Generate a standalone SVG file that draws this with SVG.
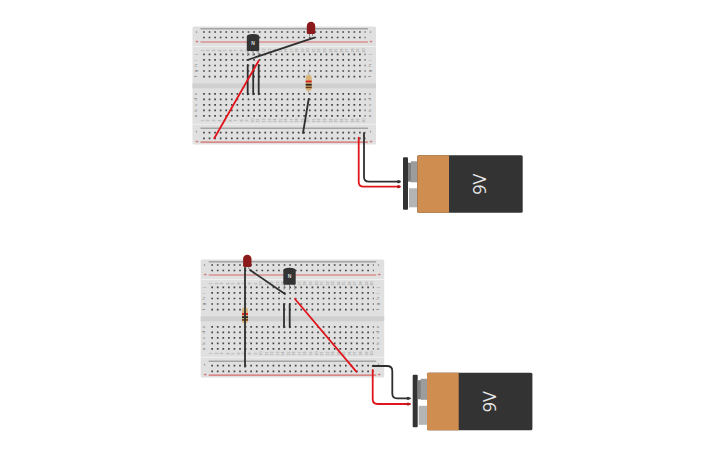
<svg xmlns="http://www.w3.org/2000/svg" width="725" height="453" viewBox="0 0 725 453">
<style>
.bb{fill:#e0e0e0}
.gr{fill:#d0d0d0}
.sep{stroke:#efefef;stroke-width:1}
.h{stroke:#454545;stroke-width:1.7;stroke-dasharray:1.7 3.87;fill:none}
.rg{stroke:#a4a4a4;stroke-width:1.5}
.rr{stroke:#d86a6a;stroke-width:1.2}
.t{font-family:"Liberation Sans",sans-serif;font-size:4px;fill:#666;text-anchor:middle}
.c{font-family:"Liberation Sans",sans-serif;font-size:3.6px;fill:#8a8a8a;text-anchor:middle}
.p{font-family:"Liberation Sans",sans-serif;font-size:6px;fill:#d05050;text-anchor:middle}
.m{font-family:"Liberation Sans",sans-serif;font-size:7px;fill:#555;text-anchor:middle}
.w{fill:none;stroke-width:1.8;stroke-linecap:round;stroke-linejoin:round}
.k{stroke:#2f2f2f}
.e{stroke:#e0151c}
.leg{stroke:#8a8a8a;stroke-width:1}
.led{fill:#8a1a1c}
.tb{fill:#333}
.n{font-family:"Liberation Sans",sans-serif;font-size:5px;font-weight:bold;fill:#ddd;text-anchor:middle}
.rb{fill:#d8b57a}
.v{font-family:"Open Sans",sans-serif;font-size:18px;fill:#e6e6e6;text-anchor:middle}
</style>
<defs>
<g id="nums">
<text class="c" transform="translate(11.4 0) rotate(-90)">1</text><text class="c" transform="translate(16.95 0) rotate(-90)">2</text><text class="c" transform="translate(22.5 0) rotate(-90)">3</text><text class="c" transform="translate(28.05 0) rotate(-90)">4</text><text class="c" transform="translate(33.6 0) rotate(-90)">5</text><text class="c" transform="translate(39.15 0) rotate(-90)">6</text><text class="c" transform="translate(44.7 0) rotate(-90)">7</text><text class="c" transform="translate(50.25 0) rotate(-90)">8</text><text class="c" transform="translate(55.8 0) rotate(-90)">9</text><text class="c" transform="translate(61.35 0) rotate(-90)">10</text>
<text class="c" transform="translate(66.9 0) rotate(-90)">11</text><text class="c" transform="translate(72.45 0) rotate(-90)">12</text><text class="c" transform="translate(78 0) rotate(-90)">13</text><text class="c" transform="translate(83.55 0) rotate(-90)">14</text><text class="c" transform="translate(89.1 0) rotate(-90)">15</text><text class="c" transform="translate(94.65 0) rotate(-90)">16</text><text class="c" transform="translate(100.2 0) rotate(-90)">17</text><text class="c" transform="translate(105.75 0) rotate(-90)">18</text><text class="c" transform="translate(111.3 0) rotate(-90)">19</text><text class="c" transform="translate(116.85 0) rotate(-90)">20</text>
<text class="c" transform="translate(122.4 0) rotate(-90)">21</text><text class="c" transform="translate(127.95 0) rotate(-90)">22</text><text class="c" transform="translate(133.5 0) rotate(-90)">23</text><text class="c" transform="translate(139.05 0) rotate(-90)">24</text><text class="c" transform="translate(144.6 0) rotate(-90)">25</text><text class="c" transform="translate(150.15 0) rotate(-90)">26</text><text class="c" transform="translate(155.7 0) rotate(-90)">27</text><text class="c" transform="translate(161.25 0) rotate(-90)">28</text><text class="c" transform="translate(166.8 0) rotate(-90)">29</text><text class="c" transform="translate(172.35 0) rotate(-90)">30</text>
</g>
<g id="letters">
<text class="t" transform="translate(0 28) rotate(-90)">j</text><text class="t" transform="translate(0 33.5) rotate(-90)">i</text><text class="t" transform="translate(0 39) rotate(-90)">h</text><text class="t" transform="translate(0 44.6) rotate(-90)">g</text><text class="t" transform="translate(0 50.2) rotate(-90)">f</text>
<text class="t" transform="translate(0 67.4) rotate(-90)">e</text><text class="t" transform="translate(0 73) rotate(-90)">d</text><text class="t" transform="translate(0 78.5) rotate(-90)">c</text><text class="t" transform="translate(0 84) rotate(-90)">b</text><text class="t" transform="translate(0 89.6) rotate(-90)">a</text>
<text class="m" transform="translate(1 5.5) rotate(-90)">-</text><text class="p" y="16.5">+</text>
<text class="m" transform="translate(1 105) rotate(-90)">-</text><text class="p" y="116">+</text>
</g>
<g id="board">
<rect class="bb" width="183.5" height="118" rx="1.5"/>
<rect class="gr" y="56.8" width="183.5" height="5"/>
<line class="sep" x1="0" y1="20" x2="183.5" y2="20"/>
<line class="sep" x1="0" y1="97.8" x2="183.5" y2="97.8"/>
<line class="rg" x1="8" y1="2.2" x2="175.5" y2="2.2"/>
<line class="rr" x1="8" y1="15.5" x2="175.5" y2="15.5"/>
<line class="rg" x1="8" y1="101.8" x2="175.5" y2="101.8"/>
<line class="rr" x1="8" y1="115.6" x2="175.5" y2="115.6"/>
<path class="h" d="M10.6 5.5H173M10.6 11H173M10.6 106.2H173M10.6 111.8H173"/>
<path class="h" d="M10.6 27.8H173M10.6 33.3H173M10.6 39H173M10.6 44.5H173M10.6 50.2H173M10.6 67.3H173M10.6 72.8H173M10.6 78.3H173M10.6 83.8H173M10.6 89.4H173"/>
<use href="#nums" y="24"/><use href="#nums" y="94"/>
<use href="#letters" x="4.5"/><use href="#letters" x="178.5"/>
</g>
<g id="battery">
<rect x="0" y="2" width="5" height="52.4" rx="1" fill="#333"/>
<rect x="5" y="7.4" width="5" height="19" fill="#7f7f7f"/>
<rect x="8" y="6" width="6.7" height="21" fill="#9c9c9c"/>
<rect x="6" y="33" width="9" height="19" fill="#b4b4b4"/>
<rect x="14.3" y="0" width="105.4" height="57.4" rx="1.5" fill="#333"/>
<path d="M15.8 0H46V57.4H15.8A1.5 1.5 0 0 1 14.3 55.9V1.5A1.5 1.5 0 0 1 15.8 0Z" fill="#d08d50"/>
</g>
<g id="led"><line class="leg" x1="-1.5" y1="4" x2="-1.5" y2="8"/><line class="leg" x1="1.5" y1="4" x2="1.5" y2="8"/><path class="led" d="M-4.2 4.5V-2A4.2 4.2 0 0 1 4.2 -2V4.5Q4.2 6 2.7 6H-2.7Q-4.2 6 -4.2 4.5Z"/></g>
<g id="tr"><line class="leg" x1="-4" y1="8" x2="-5.5" y2="21"/><line class="leg" x1="0" y1="8" x2="0" y2="21"/><line class="leg" x1="4" y1="8" x2="5.5" y2="21"/><path class="tb" d="M-6.2 1.5Q-6.2 -1 0 -1Q6.2 -1 6.2 1.5V14.5Q6.2 16 4.7 16H-4.7Q-6.2 16 -6.2 14.5Z"/><text class="n" y="9.5">N</text></g>
<g id="res"><line x1="0" y1="-11.5" x2="0" y2="11.5" stroke="#aaa" stroke-width="1"/><rect class="rb" x="-3" y="-8" width="6" height="16" rx="2.4"/><rect x="-3" y="-2.4" width="6" height="1.8" fill="#d81a1a"/><rect x="-3" y="0.8" width="6" height="1.8" fill="#222"/><rect x="-3" y="3.6" width="6" height="1.6" fill="#6a3a18"/></g>
</defs>

<g id="breadboard-1"><use href="#board" x="192.5" y="26.5"/></g>
<g id="led-1"><use href="#led" x="311" y="28"/></g>
<g id="transistor-1"><use href="#tr" x="253" y="35"/></g>
<g id="resistor-1"><use href="#res" x="308.7" y="83"/></g>
<g id="battery-1"><use href="#battery" x="403" y="155.3"/><text class="v" transform="translate(486 184.3) rotate(-90)">9V</text></g>

<g id="breadboard-2"><use href="#board" x="200.7" y="259.5"/></g>
<g id="led-2"><use href="#led" x="247.3" y="261"/></g>
<g id="transistor-2"><use href="#tr" x="289.5" y="268.8"/></g>
<g id="resistor-2"><use href="#res" x="245" y="315.5"/></g>
<g id="battery-2"><use href="#battery" x="412.7" y="372.8"/><text class="v" transform="translate(496 401.8) rotate(-90)">9V</text></g>

<g id="connectors">
<path class="w k" d="M314.3 37.7L247.3 60M247.7 65V94.3M253.2 65V94.3M258.7 65V94.3M308.7 99L303 133"/>
<path class="w e" d="M258.7 60.7L214.3 138.3"/>
<path class="w k" d="M364 133V177Q364 181.7 369 181.7H400"/>
<path class="w e" d="M358.7 137.7V182Q358.7 186.7 363.5 186.7H400"/>
<path class="w k" d="M250 270L285 294M284 304V327.3M289.7 304V327.3M245 268V366.7"/>
<path class="w e" d="M295 299L356.3 371.7"/>
<path class="w k" d="M372.7 366H387Q392.3 366 392.3 371V393.5Q392.3 398.3 397 398.3H410"/>
<path class="w e" d="M372.7 370V399Q372.7 404 377.5 404H410"/>
<circle cx="398.5" cy="181.7" r="1.6" fill="#333"/><circle cx="398.5" cy="186.7" r="1.6" fill="#b01a1a"/>
<circle cx="408" cy="398.3" r="1.6" fill="#333"/><circle cx="408" cy="404" r="1.6" fill="#b01a1a"/>
</g>
</svg>
